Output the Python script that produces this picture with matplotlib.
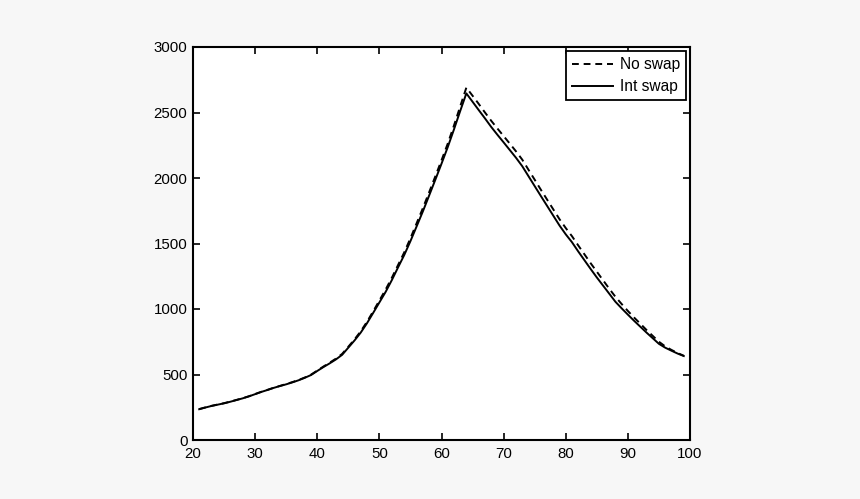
import matplotlib
matplotlib.use("Agg")
import matplotlib.pyplot as plt

x = list(range(21, 100))

int_swap = [235, 248, 260, 270, 280, 292, 305, 318, 333, 350,
            367, 382, 398, 412, 425, 440, 456, 475, 496, 527,
            557, 585, 615, 650, 705, 760, 820, 891, 970, 1050,
            1130, 1220, 1317, 1412, 1518, 1631, 1745, 1865, 1986, 2109,
            2235, 2370, 2510, 2646, 2582, 2518, 2455, 2390, 2330, 2272,
            2213, 2154, 2090, 2014, 1938, 1862, 1787, 1712, 1637, 1570,
            1510, 1440, 1373, 1306, 1241, 1179, 1117, 1055, 1005, 957,
            910, 865, 820, 777, 734, 705, 682, 660, 641]

no_swap = [236, 249, 261, 271, 281, 293, 306, 319, 334, 351,
           368, 383, 399, 413, 427, 442, 458, 477, 499, 530,
           561, 590, 621, 657, 712, 768, 830, 902, 982, 1065,
           1148, 1238, 1335, 1432, 1540, 1655, 1770, 1890, 2012, 2135,
           2262, 2400, 2545, 2690, 2628, 2565, 2500, 2437, 2378, 2320,
           2262, 2203, 2140, 2063, 1987, 1910, 1835, 1760, 1685, 1618,
           1556, 1486, 1418, 1350, 1285, 1220, 1155, 1093, 1038, 985,
           935, 888, 840, 795, 750, 715, 688, 664, 643]

xticks = [20, 30, 40, 50, 60, 70, 80, 90, 100]
yticks = [0, 500, 1000, 1500, 2000, 2500, 3000]

plt.rcParams['font.family'] = ['Liberation Sans', 'DejaVu Sans']

fig = plt.figure(figsize=(8.6, 4.99), dpi=100, facecolor='#f7f7f7')
ax = fig.add_axes([193/860, 59/499, (690-193)/860, (440-47)/499])
ax.set_facecolor('white')

ax.plot(x, no_swap, color='black', linestyle=(0, (3.5, 2.5)), linewidth=1.4, label='No swap')
ax.plot(x, int_swap, color='black', linestyle='-', linewidth=1.4, label='Int swap')

ax.set_xlim(20, 100)
ax.set_ylim(0, 3000)
ax.set_xticks(xticks)
ax.set_yticks(yticks)
ax.tick_params(direction='in', top=True, right=True, length=5, width=1.2,
               labelsize=10.8, colors='black')
ax.tick_params(axis='x', pad=5)
ax.tick_params(axis='y', pad=4)
for s in ax.spines.values():
    s.set_linewidth(1.5)
    s.set_color('black')

leg = ax.legend(loc='upper right', fontsize=11.2, frameon=True, fancybox=False,
                borderaxespad=0.25, handlelength=2.6, handletextpad=0.45,
                borderpad=0.4, labelspacing=0.45)
leg.get_frame().set_edgecolor('black')
leg.get_frame().set_linewidth(1.3)
leg.get_frame().set_alpha(1)

fig.savefig('out.png', dpi=100, facecolor=fig.get_facecolor())
